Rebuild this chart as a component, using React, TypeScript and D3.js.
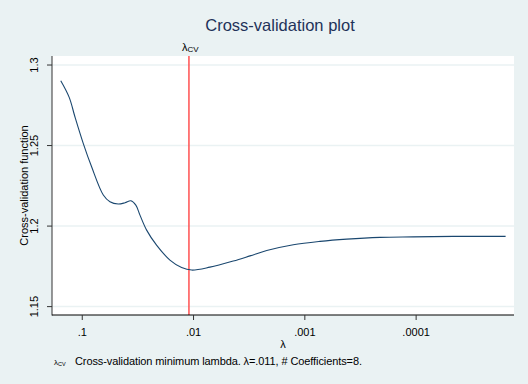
import React from 'react';
import * as d3 from 'd3';

// lambda grid (decreasing) and the cross-validation function
const lambdas = [
  0.156, 0.131, 0.1164, 0.098, 0.0824, 0.0647, 0.0564, 0.0475, 0.0413, 0.0365,
  0.033, 0.0303, 0.0264, 0.0215, 0.0163, 0.0128, 0.0104, 0.00713, 0.0044,
  0.00311, 0.0022, 0.00127, 0.00073, 0.00042, 0.000211, 0.000106, 0.0000465,
  0.0000157
];
const cvValues = [
  1.2902, 1.2799, 1.2679, 1.2514, 1.2368, 1.2193, 1.2151, 1.2137, 1.2145, 1.2157,
  1.213, 1.2068, 1.1975, 1.1882, 1.1789, 1.1743, 1.1727, 1.1745, 1.1783, 1.1815,
  1.1848, 1.1884, 1.1905, 1.1919, 1.193, 1.1933, 1.1936, 1.1936
];
const xTicks = [0.1, 0.01, 0.001, 0.0001];
const xTickLabels = ['.1', '.01', '.001', '.0001'];
const yTicks = [1.15, 1.2, 1.25, 1.3];
const yTickLabels = ['1.15', '1.2', '1.25', '1.3'];
const lambdaCV = 0.011;

const W = 528;
const H = 384;
const plot = { left: 52, right: 514, top: 56, bottom: 315 };
const font = '"Liberation Sans", Arial, sans-serif';

const App = () => {
  const x = d3.scaleLog().domain([0.187, 0.0000132]).range([plot.left, plot.right]);
  const y = d3.scaleLinear().domain([1.1448, 1.3056]).range([plot.bottom, plot.top]);

  const line = d3
    .line<number>()
    .x((d, i) => x(lambdas[i]))
    .y((d) => y(d))
    .curve(d3.curveCatmullRom.alpha(0.5));

  const cx = (plot.left + plot.right) / 2;

  return (
    <svg
      width={W}
      height={H}
      style={{ position: 'absolute', left: 0, top: 0, fontFamily: font }}
    >
      <rect width={W} height={H} fill="#eaf2f3" />
      <rect
        x={plot.left}
        y={plot.top}
        width={plot.right - plot.left}
        height={plot.bottom - plot.top}
        fill="#ffffff"
      />
      {/* gridlines */}
      {yTicks.map((t) => (
        <line
          key={'g' + t}
          x1={plot.left}
          x2={plot.right}
          y1={y(t)}
          y2={y(t)}
          stroke="#eaf2f3"
          strokeWidth={1.5}
        />
      ))}
      {/* cv minimum line */}
      <line
        x1={x(lambdaCV)}
        x2={x(lambdaCV)}
        y1={plot.top}
        y2={plot.bottom}
        stroke="#ff5050"
        strokeWidth={1.5}
      />
      <path d={line(cvValues) || ''} fill="none" stroke="#1a476f" strokeWidth={1.1} />

      {/* axes */}
      <line x1={plot.left} x2={plot.left} y1={plot.top} y2={plot.bottom + 0.5} stroke="#333" strokeWidth={1} />
      <line x1={plot.left} x2={plot.right} y1={plot.bottom} y2={plot.bottom} stroke="#000" strokeWidth={1} />
      {yTicks.map((t, i) => (
        <g key={'y' + t}>
          <line x1={plot.left - 5} x2={plot.left} y1={y(t)} y2={y(t)} stroke="#333" />
          <text
            transform={`translate(37.5,${y(t)}) rotate(-90)`}
            textAnchor="middle"
            fontSize={11}
            fill="#000"
          >
            {yTickLabels[i]}
          </text>
        </g>
      ))}
      {xTicks.map((t, i) => (
        <g key={'x' + t}>
          <line x1={x(t)} x2={x(t)} y1={plot.bottom} y2={plot.bottom + 5} stroke="#333" />
          <text x={x(t)} y={336} textAnchor="middle" fontSize={11} fill="#000">
            {xTickLabels[i]}
          </text>
        </g>
      ))}

      {/* titles */}
      <text x={280} y={31} textAnchor="middle" fontSize={16.5} fill="#1f3259">
        Cross-validation plot
      </text>
      <text
        transform={`translate(28,${(plot.top + plot.bottom) / 2}) rotate(-90)`}
        textAnchor="middle"
        fontSize={11}
        fill="#000"
      >
        Cross-validation function
      </text>
      <text x={cx} y={348} textAnchor="middle" fontSize={11} fill="#000">
        λ
      </text>
      <text x={x(lambdaCV) - 7} y={51} fontSize={11} fill="#000">
        λ<tspan fontSize={8} dy={1}>CV</tspan>
      </text>
      <text x={54} y={365} fontSize={8} fill="#000">
        λ<tspan fontSize={5.5} dy={0.5}>CV</tspan>
      </text>
      <text x={75} y={365} fontSize={11} fill="#000" textLength={287} lengthAdjust="spacing">
        Cross-validation minimum lambda.  λ=.011, # Coefficients=8.
      </text>
    </svg>
  );
};

export default App;
